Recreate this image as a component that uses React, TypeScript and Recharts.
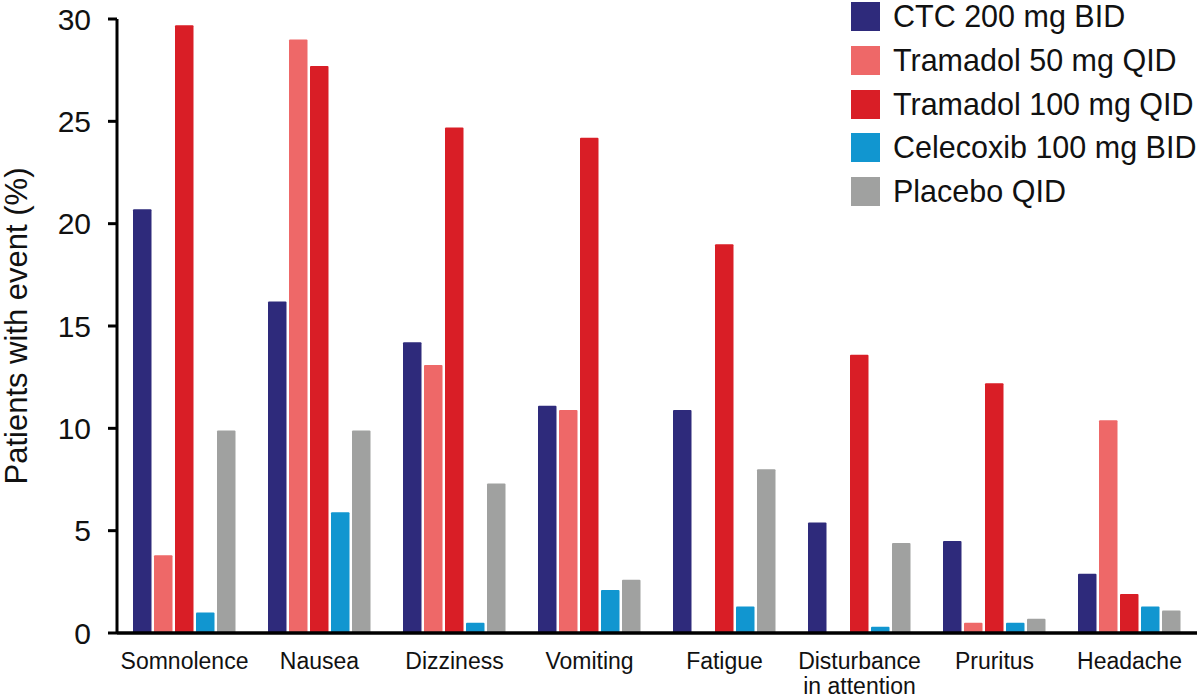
import React from "react";
import { Bar, BarChart, Legend, XAxis, YAxis } from "recharts";

const categories = [
  "Somnolence",
  "Nausea",
  "Dizziness",
  "Vomiting",
  "Fatigue",
  "Disturbance\nin attention",
  "Pruritus",
  "Headache",
];
const ctc200 = [20.7, 16.2, 14.2, 11.1, 10.9, 5.4, 4.5, 2.9];
const tramadol50 = [3.8, 29.0, 13.1, 10.9, 0, 0, 0.5, 10.4];
const tramadol100 = [29.7, 27.7, 24.7, 24.2, 19.0, 13.6, 12.2, 1.9];
const celecoxib100 = [1.0, 5.9, 0.5, 2.1, 1.3, 0.3, 0.5, 1.3];
const placebo = [9.9, 9.9, 7.3, 2.6, 8.0, 4.4, 0.7, 1.1];
const yTicks = [0, 5, 10, 15, 20, 25, 30];

const seriesKeys = ["ctc200", "tramadol50", "tramadol100", "celecoxib100", "placebo"];
const seriesNames = [
  "CTC 200 mg BID",
  "Tramadol 50 mg QID",
  "Tramadol 100 mg QID",
  "Celecoxib 100 mg BID",
  "Placebo QID",
];
const seriesColors = ["#2e2a7b", "#ee6868", "#d91e26", "#1196d0", "#a0a1a0"];

const data = categories.map((name, i) => ({
  name,
  ctc200: ctc200[i],
  tramadol50: tramadol50[i],
  tramadol100: tramadol100[i],
  celecoxib100: celecoxib100[i],
  placebo: placebo[i],
}));

const FONT = "'Liberation Sans', Arial, sans-serif";

function CategoryTick({ x, y, payload }: { x?: number; y?: number; payload?: { value: string } }) {
  const lines = String(payload?.value ?? "").split("\n");
  return (
    <text x={x} y={(y ?? 0) + 36} textAnchor="middle" fontSize={23} fontFamily={FONT} fill="#111">
      {lines.map((l, i) => (
        <tspan key={i} x={x} dy={i === 0 ? 0 : 24.5}>
          {l}
        </tspan>
      ))}
    </text>
  );
}

function YTitle({ viewBox }: { viewBox?: { x: number; y: number; width: number; height: number } }) {
  const cy = viewBox ? viewBox.y + viewBox.height / 2 : 326;
  return (
    <text
      transform={`translate(26.5, ${cy}) rotate(-90)`}
      textAnchor="middle"
      fontSize={31}
      fontFamily={FONT}
      fill="#111"
    >
      Patients with event (%)
    </text>
  );
}

function ChartLegend() {
  return (
    <div style={{ fontFamily: FONT }}>
      {seriesNames.map((n, i) => (
        <div
          key={n}
          style={{ display: "flex", alignItems: "center", height: 43.7, marginTop: i === 0 ? -5 : 0 }}
        >
          <span style={{ width: 29, height: 29, background: seriesColors[i], display: "inline-block" }} />
          <span style={{ marginLeft: 13, fontSize: 30.5, color: "#111", whiteSpace: "nowrap" }}>{n}</span>
        </div>
      ))}
    </div>
  );
}

export default function App() {
  return (
    <div style={{ position: "absolute", left: 0, top: 0, width: 1200, height: 697, background: "#fff" }}>
      <BarChart
        width={1200}
        height={697}
        data={data}
        margin={{ top: 19, right: 3, left: 0, bottom: 0 }}
        barGap={2.5}
      >
        <XAxis
          dataKey="name"
          interval={0}
          height={64}
          tickLine={false}
          tickSize={0}
          tickMargin={0}
          axisLine={{ stroke: "#000", strokeWidth: 3.5 }}
          tick={<CategoryTick />}
        />
        <YAxis
          width={117}
          domain={[0, 30]}
          ticks={yTicks}
          tickSize={9}
          tickMargin={17}
          axisLine={{ stroke: "#000", strokeWidth: 3 }}
          tickLine={{ stroke: "#000", strokeWidth: 3 }}
          tick={{ fill: "#111", fontSize: 30, fontFamily: FONT }}
          label={<YTitle />}
        />
        <Legend
          layout="vertical"
          align="center"
          verticalAlign="middle"
          content={<ChartLegend />}
          wrapperStyle={{ top: 0, left: 851, width: 349, height: 220 }}
        />
        {seriesKeys.map((k, i) => (
          <Bar
            key={k}
            dataKey={k}
            name={seriesNames[i]}
            fill={seriesColors[i]}
            barSize={18.5}
            radius={[1, 1, 0, 0]}
            isAnimationActive={false}
          />
        ))}
      </BarChart>
    </div>
  );
}
